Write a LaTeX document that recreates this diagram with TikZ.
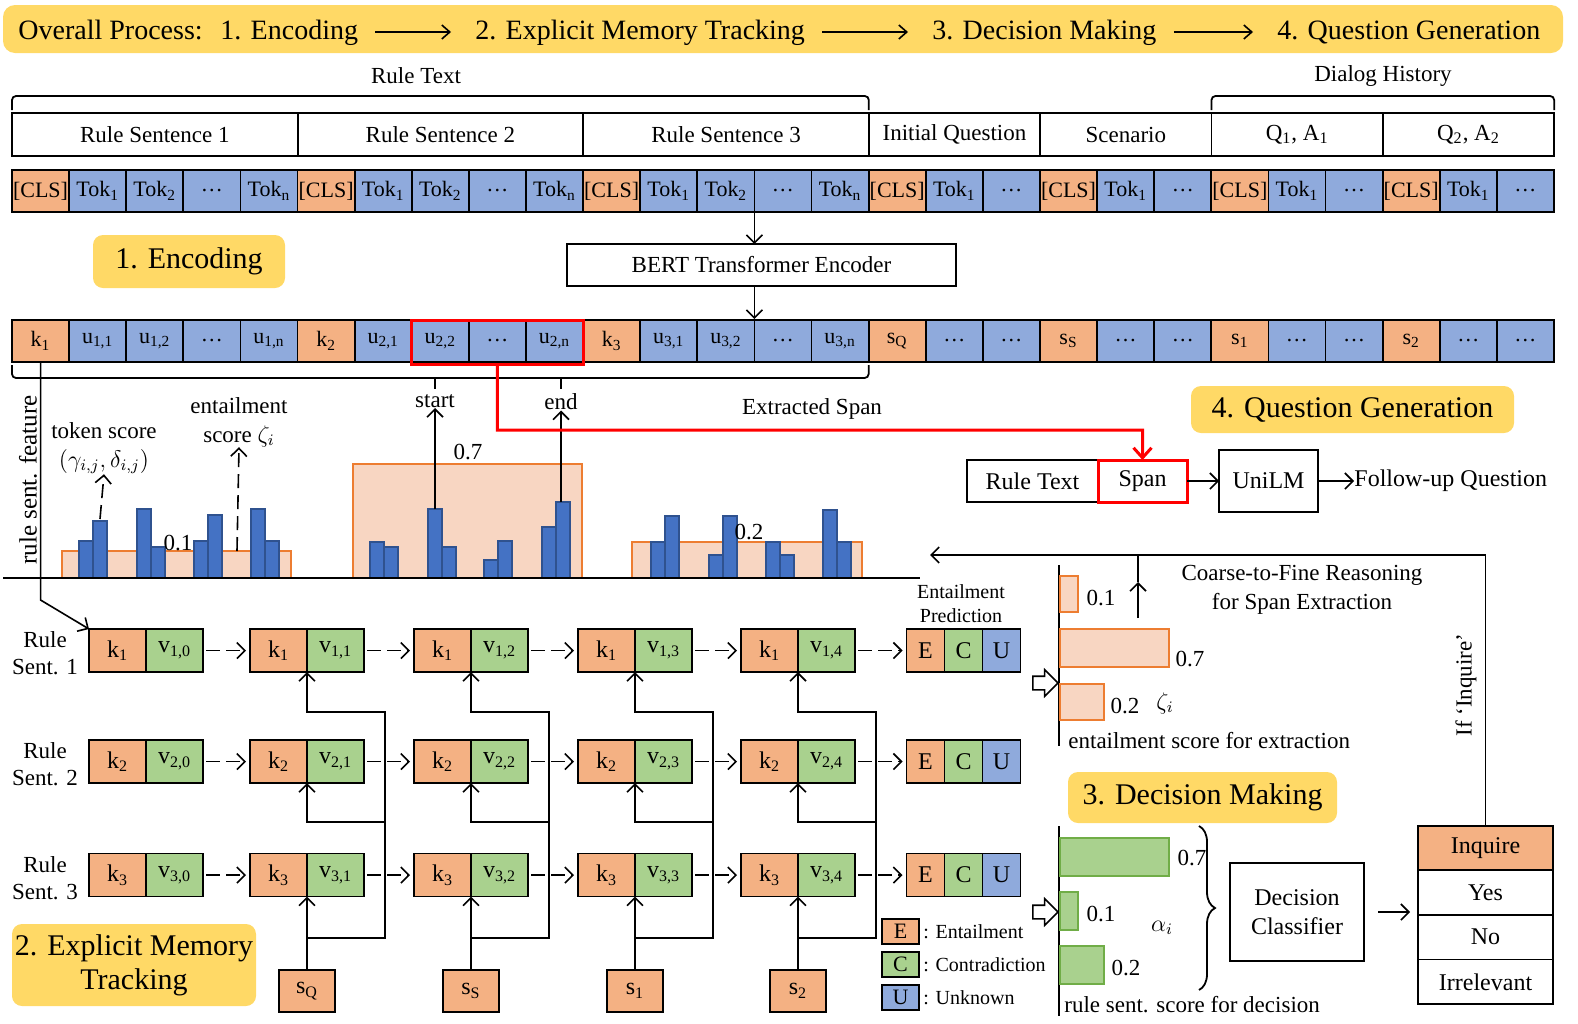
\documentclass[tikz,border=0pt]{standalone}
\usepackage{fontspec}
\setmainfont{Liberation Serif}
\usetikzlibrary{positioning}
\usetikzlibrary{arrows.meta}
\usetikzlibrary{shapes.arrows}
\usetikzlibrary{decorations.pathreplacing}

\definecolor{stageyellow}{HTML}{FFD966}
\definecolor{keyorange}{HTML}{F4B183}
\definecolor{tokblue}{HTML}{8FAADC}
\definecolor{valgreen}{HTML}{A9D18E}
\definecolor{peach}{HTML}{F8D6C2}
\definecolor{peachline}{HTML}{ED7D31}
\definecolor{barblue}{HTML}{4472C4}
\definecolor{barline}{HTML}{2F528F}
\definecolor{greenline}{HTML}{70AD47}

\newcommand{\lo}[1]{\textsubscript{#1}}

\tikzstyle{cell} = [draw, line width=0.9pt, inner sep=0pt, outer sep=0pt,
minimum width=28.55pt, minimum height=21pt, font=\fontsize{11}{13}\selectfont]
\tikzstyle{org} = [fill=keyorange]
\tikzstyle{blu} = [fill=tokblue]
\tikzstyle{grn} = [fill=valgreen]
\tikzstyle{memcell} = [cell, minimum width=28.5pt, minimum height=21.5pt,
font=\fontsize{12}{13}\selectfont]
\tikzstyle{ecu} = [cell, minimum width=19pt, minimum height=21.5pt,
font=\fontsize{12}{13}\selectfont]
\tikzstyle{plainbox} = [draw, line width=0.9pt, inner sep=0pt, outer sep=0pt,
font=\fontsize{11.5}{13}\selectfont]
\tikzstyle{stage} = [fill=stageyellow, rounded corners=5pt, inner sep=0pt,
align=center, font=\fontsize{15}{17}\selectfont]
\tikzstyle{hdrtxt} = [inner sep=0pt, text height=9.5pt, text depth=2.5pt,
font=\fontsize{14}{16}\selectfont]
\tikzstyle{lbl} = [inner sep=0pt, align=center, font=\fontsize{11.5}{14.5}\selectfont]
\tikzstyle{small} = [inner sep=0pt, align=center, font=\fontsize{10}{12}\selectfont]
\tikzstyle{arr} = [line width=0.8pt, -{Straight Barb[length=4pt,width=8pt]}]
\tikzstyle{hdrarr} = [line width=0.8pt, -{Straight Barb[length=4pt,width=7pt]},
shorten <=8.5pt, shorten >=12pt]
\tikzstyle{memarr} = [arr, dash pattern=on 7pt off 3pt, shorten <=1.5pt, shorten >=2pt]
\tikzstyle{redline} = [draw=red, line width=1.5pt, -{Straight Barb[length=5pt,width=9pt]}]
\tikzstyle{brk} = [line width=0.9pt, rounded corners=2pt]
\tikzstyle{axis} = [line width=0.9pt]
\tikzstyle{tokbar} = [fill=barblue, draw=barline, line width=0.6pt]
\tikzstyle{scorebox} = [fill=peach, draw=peachline, line width=0.8pt]
\tikzstyle{greenbox} = [fill=valgreen, draw=greenline, line width=1pt]
\tikzstyle{hollow} = [single arrow, draw, line width=0.8pt, fill=white, inner sep=3pt,
minimum height=12.5pt, single arrow head extend=3.25pt]

\begin{document}
\begin{tikzpicture}[x=0.5pt, y=-0.5pt]
  \useasboundingbox (0,0) rectangle (1578,1023);

  % overall process
  \node[stage, minimum width=780pt, minimum height=24pt, rounded corners=6pt] (hdr) at (783,29) {};
  \node[hdrtxt, anchor=west] (h0) at (18,32) {Overall Process:};
  \node[hdrtxt, anchor=west] (h1) at (220,32) {1. Encoding};
  \node[hdrtxt, anchor=west] (h2) at (475,32) {2. Explicit Memory Tracking};
  \node[hdrtxt, anchor=west] (h3) at (932,32) {3. Decision Making};
  \node[hdrtxt, anchor=west] (h4) at (1277,32) {4. Question Generation};
  \foreach \a/\b in {h1/h2,h2/h3,h3/h4}
    \draw[hdrarr] (\a.east) -- (\b.west);

  % input segments
  \node[plainbox, minimum width=142.8pt, minimum height=21.5pt] (sen1) at (154.8,134.5) {Rule Sentence 1};
  \node[plainbox, minimum width=142.8pt, minimum height=21.5pt, right=0pt of sen1] (sen2) {Rule Sentence 2};
  \node[plainbox, minimum width=142.8pt, minimum height=21.5pt, right=0pt of sen2] (sen3) {Rule Sentence 3};
  \node[plainbox, minimum width=85.67pt, minimum height=21.5pt, right=0pt of sen3] (sen4) {Initial Question};
  \node[plainbox, minimum width=85.67pt, minimum height=21.5pt, right=0pt of sen4] (sen5) {Scenario};
  \node[plainbox, minimum width=85.67pt, minimum height=21.5pt, right=0pt of sen5] (sen6) {Q\lo{1}, A\lo{1}};
  \node[plainbox, minimum width=85.67pt, minimum height=21.5pt, right=0pt of sen6] (sen7) {Q\lo{2}, A\lo{2}};

  \node[lbl] (rtlabel) at (416,76) {Rule Text};
  \draw[brk] ([yshift=1.5pt]sen1.north west) |- ([yshift=8.5pt]sen3.north east) -- ([yshift=1.5pt]sen3.north east);
  \node[lbl] (dhlabel) at (1383,76) {Dialog History};
  \draw[brk] ([yshift=1.5pt]sen6.north west) |- ([yshift=8.5pt]sen7.north east) -- ([yshift=1.5pt]sen7.north east);

  % tokens
  \foreach \s in {1,2,3}
    \foreach \t/\f [count=\j from 0] in {{[CLS]}/org, {Tok\lo{1}}/blu, {Tok\lo{2}}/blu, {\dots}/blu, {Tok\lo{n}}/blu}
      \node[cell,\f] (tok-\s-\j) at ({40.55+57.11*(5*\s-5+\j)},191) {\t};
  \foreach \t/\f [count=\j from 15] in {{[CLS]}/org, {Tok\lo{1}}/blu, {\dots}/blu,
      {[CLS]}/org, {Tok\lo{1}}/blu, {\dots}/blu, {[CLS]}/org, {Tok\lo{1}}/blu, {\dots}/blu,
      {[CLS]}/org, {Tok\lo{1}}/blu, {\dots}/blu}
    \node[cell,\f] (tok-\j) at ({40.55+57.11*\j},191) {\t};

  % encoder
  \node[plainbox, minimum width=194.5pt, minimum height=21pt] (bert) at (761.5,265) {BERT Transformer Encoder};
  \draw[arr] (tok-3-2.south east) -- (tok-3-2.south east |- bert.north);
  \draw[arr] (bert.south -| tok-3-2.south east) -- (tok-3-2.south east |- 0,319);
  \node[stage, minimum width=96pt, minimum height=26.5pt] (st1) at (189,261.5) {1. Encoding};

  % encoded sequence
  \foreach \s in {1,2,3}
    \foreach \t/\f [count=\j from 0] in {{k\lo{\s}}/org, {u\lo{\s,1}}/blu, {u\lo{\s,2}}/blu, {\dots}/blu, {u\lo{\s,n}}/blu}
      \node[cell,\f] (enc-\s-\j) at ({40.55+57.11*(5*\s-5+\j)},341) {\t};
  \foreach \t/\f [count=\j from 15] in {{s\lo{Q}}/org, {\dots}/blu, {\dots}/blu,
      {s\lo{S}}/org, {\dots}/blu, {\dots}/blu, {s\lo{1}}/org, {\dots}/blu, {\dots}/blu,
      {s\lo{2}}/org, {\dots}/blu, {\dots}/blu}
    \node[cell,\f] (enc-\j) at ({40.55+57.11*\j},341) {\t};
  \node[draw=red, line width=1.5pt, inner sep=0pt, minimum width=85.67pt, minimum height=22pt] (spanbox) at ([yshift=-0.5pt]enc-2-3) {};
  \draw[brk] ([yshift=-1.5pt]enc-1-0.south west) |- ([yshift=-8pt]enc-3-4.south east) -- ([yshift=-1.5pt]enc-3-4.south east);

  % span extraction charts
  \foreach \a/\b in {62/291,353/582,632/862}
    \draw[scorebox] (\a,578) rectangle (\b,{\a==62 ? 551 : (\a==353 ? 464 : 542)});
  \foreach \a/\b/\h in {79/93/541, 93/107/521, 137/151/509, 151/165/547, 194/208/541, 208/222/515, 251/265/509, 265/279/541,
      370/384/542, 384/398/547, 428/442/509, 442/456/547, 484/498/560, 498/512/541, 542/556/527, 556/570/502,
      651/665/542, 665/679/516, 709/723/555, 723/737/516, 766/780/542, 780/794/555, 823/837/510, 837/851/542}
    \draw[tokbar] (\a,578) rectangle (\b,\h);
  \draw[axis] (3,578) -- (920,578);
  \node[lbl] (sc1) at (178,543) {0.1};
  \node[lbl] (sc2) at (468,452) {0.7};
  \node[lbl] (sc3) at (749,532) {0.2};
  \node[lbl, rotate=90, font=\fontsize{12.5}{14}\selectfont] (rsf) at (28,480) {rule sent. feature};
  \node[lbl] (tokscore) at (104,448) {token score\\$(\gamma_{i,j}, \delta_{i,j})$};
  \node[lbl] (entscore) at (239,422) {entailment\\score $\zeta_i$};
  \draw[arr, dash pattern=on 7pt off 3.5pt] (100,519) -- (tokscore.south);
  \draw[arr, dash pattern=on 7pt off 3.5pt] (237,551) -- (entscore.south);
  \node[lbl] (start) at (435,401) {start};
  \node[lbl] (end) at (561,402) {end};
  \draw[arr] (435,509) -- (start.south);
  \draw[arr] (561,502) -- (end.south);
  \draw[axis] (435,378) -- (435,389);
  \draw[axis] (561,378) -- (561,389);
  \node[lbl] (exspan) at (812,409) {Extracted Span};

  % question generation
  \node[stage, minimum width=161.5pt, minimum height=23.5pt] (st4) at (1352.5,409.5) {4. Question Generation};
  \node[plainbox, minimum width=65.5pt, minimum height=21pt, font=\fontsize{12}{14}\selectfont] (rtext) at (1032.5,481) {Rule Text};
  \node[plainbox, draw=red, line width=1.5pt, minimum width=44.5pt, minimum height=21pt, right=0pt of rtext, font=\fontsize{12}{14}\selectfont] (span) {Span};
  \node[plainbox, minimum width=49.5pt, minimum height=31pt, right=16pt of span, font=\fontsize{12}{14}\selectfont] (unilm) {UniLM};
  \node[lbl, right=18pt of unilm, font=\fontsize{12}{14}\selectfont] (fuq) {Follow-up Question};
  \draw[arr] (span) -- (unilm);
  \draw[arr] (unilm) -- (fuq);
  \coordinate (redturn) at (497.4,430);
  \draw[redline] (spanbox.south) -- (redturn) -| (span.north);

  % explicit memory tracking
  \foreach \r/\y in {1/650.5,2/761.5,3/875} {
    \node[lbl, font=\fontsize{11.5}{13.5}\selectfont] (rs-\r) at (45,\y+3) {Rule\\Sent. \r};
    \foreach \c/\x in {0/89,1/250,2/414,3/578,4/741} {
      \node[memcell,org] (mk-\r-\c) at (\x+28.5,\y) {k\lo{\r}};
      \node[memcell,grn,right=0pt of mk-\r-\c] (mv-\r-\c) {v\lo{\r,\c}};
    }
    \node[ecu,org] (ecE-\r) at (925.5,\y) {E};
    \node[ecu,grn,right=0pt of ecE-\r] (ecC-\r) {C};
    \node[ecu,blu,right=0pt of ecC-\r] (ecU-\r) {U};
    \foreach \c [evaluate=\c as \n using int(\c+1)] in {0,...,3}
      \draw[memarr] (mv-\r-\c) -- (mk-\r-\n);
    \draw[memarr] (mv-\r-4) -- (ecE-\r);
  }
  \node[small] (entpred) at (961,604) {Entailment\\Prediction};
  \draw[arr] (enc-1-0.south) -- ++(0,238) -- (mk-1-0.north west);

  \foreach \c/\t/\x in {1/Q/307,2/S/471,3/1/635,4/2/798} {
    \node[memcell,org, minimum width=28pt, minimum height=21pt] (sin-\c) at (\x,991) {s\lo{\t}};
    \draw[arr] (sin-\c) -- (mk-3-\c.south east);
    \coordinate (fork-\c) at (\x,938);
    \draw[arr] (fork-\c) -| (\x+78,712) -| (mk-1-\c.south east);
    \draw[arr] (\x+78,822) -| (mk-2-\c.south east);
  }
  \node[stage, minimum width=122pt, minimum height=41pt] (st2) at (134,965) {2. Explicit Memory\\Tracking};

  % legend
  \foreach \t/\f/\d/\y in {E/org/Entailment/931.5, C/grn/Contradiction/964.5, U/blu/Unknown/997.5} {
    \node[cell,\f, minimum width=18.5pt, minimum height=12.5pt] (lg-\t) at (900.5,\y) {\t};
    \node[small, right=2pt of lg-\t] (lgt-\t) {: \d};
  }

  % entailment scores for extraction
  \node[hollow] (hol1) at (1042,683) {};
  \draw[axis] (1059,565) -- (1059,746);
  \draw[scorebox] (1060,576) rectangle (1078,612);
  \draw[scorebox] (1060,629) rectangle (1169,667);
  \draw[scorebox] (1060,684) rectangle (1104,720);
  \node[lbl] (ez1) at (1101,598) {0.1};
  \node[lbl] (ez7) at (1190,659) {0.7};
  \node[lbl] (ez2) at (1125,706) {0.2};
  \node[lbl] (zeta) at (1165,703) {$\zeta_i$};
  \node[lbl, anchor=west] (entext) at (1068,741) {entailment score for extraction};
  \node[lbl] (c2f) at (1302,590) {Coarse-to-Fine Reasoning\\for Span Extraction};

  % decision making
  \node[stage, minimum width=134.5pt, minimum height=25.5pt] (st3) at (1202.5,797.5) {3. Decision Making};
  \node[hollow] (hol2) at (1042,912) {};
  \draw[axis] (1059,826) -- (1059,1016);
  \draw[greenbox] (1060,838) rectangle (1169,876);
  \draw[greenbox] (1060,892) rectangle (1078,930);
  \draw[greenbox] (1060,946) rectangle (1104,984);
  \node[lbl] (dz7) at (1192,858) {0.7};
  \node[lbl] (dz1) at (1101,914) {0.1};
  \node[lbl] (dz2) at (1126,968) {0.2};
  \node[lbl] (alpha) at (1162,928) {$\alpha_i$};
  \node[lbl, anchor=west] (dstext) at (1064,1005) {rule sent. score for decision};
  \draw[line width=0.9pt, decorate, decoration={brace, amplitude=8pt}] (1199,826) -- (1199,990);
  \node[plainbox, minimum width=67pt, minimum height=49pt, align=center, font=\fontsize{12}{14.5}\selectfont] (dcls) at (1297,912) {Decision\\Classifier};

  \node[plainbox, org, minimum width=67.5pt, minimum height=22.3pt, font=\fontsize{12}{14}\selectfont] (inq) at (1485.5,848) {Inquire};
  \node[plainbox, minimum width=67.5pt, minimum height=22.3pt, below=0pt of inq, font=\fontsize{12}{14}\selectfont] (yes) {Yes};
  \node[plainbox, minimum width=67.5pt, minimum height=22.3pt, below=0pt of yes, font=\fontsize{12}{14}\selectfont] (no) {No};
  \node[plainbox, minimum width=67.5pt, minimum height=22.3pt, below=0pt of no, font=\fontsize{12}{14}\selectfont] (irr) {Irrelevant};
  \draw[arr, shorten <=7pt, shorten >=4pt] (dcls.east) -- (dcls.east -| yes.west);

  % loop back for inquire
  \draw[arr] (inq.north) |- (930,555);
  \draw[arr] (1138,618) -- (1138,582);
  \draw[axis] (1138,582) -- (1138,555);
  \node[lbl, rotate=90] (ifinq) at (1466,685) {If `Inquire'};
\end{tikzpicture}
\end{document}
